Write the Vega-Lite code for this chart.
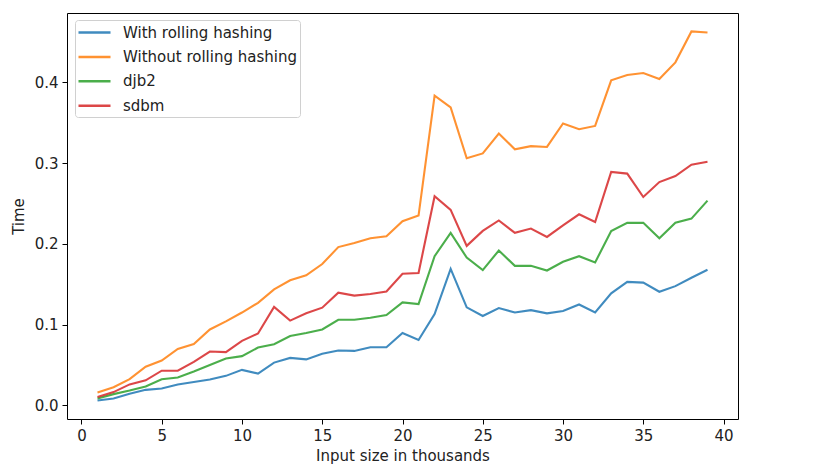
{
  "$schema": "https://vega.github.io/schema/vega-lite/v6.json",
  "width": 671,
  "height": 406,
  "autosize": "none",
  "padding": {"left": 67, "top": 13, "right": 80, "bottom": 55},
  "background": "white",
  "config": {
    "font": "DejaVu Sans",
    "view": {"stroke": "#000", "strokeWidth": 1},
    "axis": {
      "grid": false,
      "domain": false,
      "tickColor": "#000",
      "tickSize": 5,
      "labelColor": "#222",
      "labelFontSize": 15,
      "labelFont": "DejaVu Sans",
      "titleFont": "DejaVu Sans",
      "titleFontSize": 15,
      "titleFontWeight": "normal",
      "titleColor": "#222",
      "labelPadding": 4
    }
  },
  "data": {
    "values": [
      {"n": 1, "With rolling hashing": 0.006, "Without rolling hashing": 0.016, "djb2": 0.0086, "sdbm": 0.0103},
      {"n": 2, "With rolling hashing": 0.0086, "Without rolling hashing": 0.0226, "djb2": 0.014, "sdbm": 0.0165},
      {"n": 3, "With rolling hashing": 0.0144, "Without rolling hashing": 0.0325, "djb2": 0.0185, "sdbm": 0.026},
      {"n": 4, "With rolling hashing": 0.0193, "Without rolling hashing": 0.048, "djb2": 0.0235, "sdbm": 0.031},
      {"n": 5, "With rolling hashing": 0.021, "Without rolling hashing": 0.0556, "djb2": 0.0325, "sdbm": 0.043},
      {"n": 6, "With rolling hashing": 0.026, "Without rolling hashing": 0.07, "djb2": 0.0346, "sdbm": 0.043},
      {"n": 7, "With rolling hashing": 0.029, "Without rolling hashing": 0.076, "djb2": 0.042, "sdbm": 0.054},
      {"n": 8, "With rolling hashing": 0.032, "Without rolling hashing": 0.094, "djb2": 0.05, "sdbm": 0.0667},
      {"n": 9, "With rolling hashing": 0.0366, "Without rolling hashing": 0.104, "djb2": 0.058, "sdbm": 0.066},
      {"n": 10, "With rolling hashing": 0.044, "Without rolling hashing": 0.115, "djb2": 0.061, "sdbm": 0.08},
      {"n": 11, "With rolling hashing": 0.0395, "Without rolling hashing": 0.127, "djb2": 0.0716, "sdbm": 0.089},
      {"n": 12, "With rolling hashing": 0.053, "Without rolling hashing": 0.1436, "djb2": 0.0757, "sdbm": 0.122},
      {"n": 13, "With rolling hashing": 0.0588, "Without rolling hashing": 0.155, "djb2": 0.086, "sdbm": 0.105},
      {"n": 14, "With rolling hashing": 0.057, "Without rolling hashing": 0.161, "djb2": 0.0897, "sdbm": 0.114},
      {"n": 15, "With rolling hashing": 0.064, "Without rolling hashing": 0.175, "djb2": 0.094, "sdbm": 0.121},
      {"n": 16, "With rolling hashing": 0.068, "Without rolling hashing": 0.196, "djb2": 0.106, "sdbm": 0.1395},
      {"n": 17, "With rolling hashing": 0.0675, "Without rolling hashing": 0.201, "djb2": 0.106, "sdbm": 0.136},
      {"n": 18, "With rolling hashing": 0.072, "Without rolling hashing": 0.207, "djb2": 0.1086, "sdbm": 0.138},
      {"n": 19, "With rolling hashing": 0.072, "Without rolling hashing": 0.2095, "djb2": 0.112, "sdbm": 0.141},
      {"n": 20, "With rolling hashing": 0.0897, "Without rolling hashing": 0.228, "djb2": 0.1276, "sdbm": 0.163},
      {"n": 21, "With rolling hashing": 0.081, "Without rolling hashing": 0.235, "djb2": 0.1255, "sdbm": 0.164},
      {"n": 22, "With rolling hashing": 0.113, "Without rolling hashing": 0.3835, "djb2": 0.1848, "sdbm": 0.259},
      {"n": 23, "With rolling hashing": 0.169, "Without rolling hashing": 0.369, "djb2": 0.2136, "sdbm": 0.242},
      {"n": 24, "With rolling hashing": 0.1214, "Without rolling hashing": 0.306, "djb2": 0.183, "sdbm": 0.1975},
      {"n": 25, "With rolling hashing": 0.1107, "Without rolling hashing": 0.312, "djb2": 0.1675, "sdbm": 0.216},
      {"n": 26, "With rolling hashing": 0.1206, "Without rolling hashing": 0.3366, "djb2": 0.1918, "sdbm": 0.229},
      {"n": 27, "With rolling hashing": 0.115, "Without rolling hashing": 0.317, "djb2": 0.1728, "sdbm": 0.2136},
      {"n": 28, "With rolling hashing": 0.118, "Without rolling hashing": 0.321, "djb2": 0.1728, "sdbm": 0.219},
      {"n": 29, "With rolling hashing": 0.114, "Without rolling hashing": 0.32, "djb2": 0.167, "sdbm": 0.2086},
      {"n": 30, "With rolling hashing": 0.117, "Without rolling hashing": 0.349, "djb2": 0.1778, "sdbm": 0.223},
      {"n": 31, "With rolling hashing": 0.125, "Without rolling hashing": 0.342, "djb2": 0.1848, "sdbm": 0.2366},
      {"n": 32, "With rolling hashing": 0.115, "Without rolling hashing": 0.346, "djb2": 0.177, "sdbm": 0.227},
      {"n": 33, "With rolling hashing": 0.1387, "Without rolling hashing": 0.4025, "djb2": 0.216, "sdbm": 0.289},
      {"n": 34, "With rolling hashing": 0.153, "Without rolling hashing": 0.409, "djb2": 0.226, "sdbm": 0.287},
      {"n": 35, "With rolling hashing": 0.152, "Without rolling hashing": 0.4115, "djb2": 0.226, "sdbm": 0.258},
      {"n": 36, "With rolling hashing": 0.1407, "Without rolling hashing": 0.404, "djb2": 0.207, "sdbm": 0.2765},
      {"n": 37, "With rolling hashing": 0.1477, "Without rolling hashing": 0.4247, "djb2": 0.2263, "sdbm": 0.284},
      {"n": 38, "With rolling hashing": 0.158, "Without rolling hashing": 0.463, "djb2": 0.2313, "sdbm": 0.298},
      {"n": 39, "With rolling hashing": 0.168, "Without rolling hashing": 0.4617, "djb2": 0.2535, "sdbm": 0.3016}
    ]
  },
  "transform": [
    {"fold": ["With rolling hashing", "Without rolling hashing", "djb2", "sdbm"], "as": ["series", "time"]}
  ],
  "mark": {"type": "line", "strokeWidth": 2.1, "opacity": 0.85},
  "encoding": {
    "x": {
      "field": "n",
      "type": "quantitative",
      "scale": {"domain": [-0.9, 40.9], "nice": false, "zero": false},
      "axis": {"values": [0, 5, 10, 15, 20, 25, 30, 35, 40], "format": "d", "title": "Input size in thousands", "titlePadding": 5}
    },
    "y": {
      "field": "time",
      "type": "quantitative",
      "scale": {"domain": [-0.0168, 0.4858], "nice": false, "zero": false},
      "axis": {"values": [0, 0.1, 0.2, 0.3, 0.4], "format": ".1f", "title": "Time", "titlePadding": 8}
    },
    "color": {
      "field": "series",
      "type": "nominal",
      "scale": {
        "domain": ["With rolling hashing", "Without rolling hashing", "djb2", "sdbm"],
        "range": ["#1f77b4", "#ff7f0e", "#2ca02c", "#d62728"]
      },
      "legend": {
        "title": null,
        "orient": "none",
        "legendX": 8,
        "legendY": 7,
        "fillColor": "white",
        "strokeColor": "#d0d0d0",
        "cornerRadius": 3,
        "padding": 3,
        "symbolType": "M-2,0H2",
        "symbolSize": 256,
        "symbolOffset": 7,
        "symbolStrokeWidth": 2.5,
        "symbolOpacity": 0.85,
        "labelFont": "DejaVu Sans",
        "labelFontSize": 15,
        "labelColor": "#222",
        "labelLimit": 400,
        "labelOffset": 19,
        "rowPadding": 6.4
      }
    }
  }
}
